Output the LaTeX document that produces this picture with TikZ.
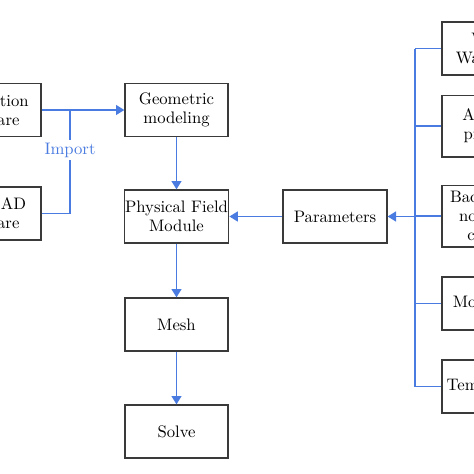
\documentclass[tikz,border=0pt]{standalone}
\usepackage{tikz}
\usetikzlibrary{arrows.meta,positioning,calc}
\definecolor{FlowBlue}{HTML}{4A7BE0}
\definecolor{BoxGray}{HTML}{3A3A3A}

\begin{document}
\begin{tikzpicture}[
  x=0.6pt,y=-0.6pt,
  link/.style={
    line width=0.75pt,
    draw=FlowBlue
  },
  flow/.style={
    link,
    -{Triangle[length=5pt,width=6pt]}
  },
  stagebox/.style={
    draw=BoxGray,
    line width=0.8pt,
    fill=white,
    align=center,
    minimum width=61.8pt,
    minimum height=31.8pt,
    inner xsep=0.5pt,
    inner ysep=2pt,
    font=\fontsize{10}{11.5}\selectfont,
    text=black
  },
  importlabel/.style={
    fill=white,
    inner sep=1.5pt,
    font=\fontsize{10}{11.5}\selectfont,
    text=FlowBlue
  }
]
\useasboundingbox (0,0) rectangle (474,474);
\clip (0,0) rectangle (474,474);

% -------------------------------------------------
% Import sources
% -------------------------------------------------
\node[stagebox] (simsw) at (-10.5,110) {Simulation\\software};
\node[stagebox] (cadsw) at (-10.5,213.5) {AutoCAD\\software};

% -------------------------------------------------
% Main column
% -------------------------------------------------
\node[stagebox] (geo)   at (176.5,110)   {Geometric\\modeling};
\node[stagebox] (phys)  at (176.5,216.5) {Physical Field\\Module};
\node[stagebox] (mesh)  at (176.5,324.5) {Mesh};
\node[stagebox] (solve) at (176.5,431.5) {Solve};

\draw[flow] (simsw.east) -- (geo.west);
\coordinate (junc) at (70,110);
\draw[link] (cadsw.east) -| (junc);
\node[importlabel] (imp) at (70,150) {Import};

\draw[flow] (geo.south)  -- (phys.north);
\draw[flow] (phys.south) -- (mesh.north);
\draw[flow] (mesh.south) -- (solve.north);

% -------------------------------------------------
% Parameters and inputs
% -------------------------------------------------
\node[stagebox, minimum width=62.4pt] (param) at (335,216.5) {Parameters};

\node[stagebox] (wave)  at (493.5,48.5)  {Water\\Wave load};
\node[stagebox, minimum height=37pt] (air) at (493.5,126) {Ambient\\pressure};
\node[stagebox, minimum height=37pt] (bg)  at (493.5,216) {Background\\noise and\\current};
\node[stagebox] (moist) at (493.5,303.5) {Monitoring};
\node[stagebox] (temp)  at (493.5,386.5) {Temperature};

\coordinate (bus) at (415,0);
\foreach \n in {wave,air,bg,moist,temp}
  \draw[link] (\n.west -| bus) -- (\n.west);
\draw[link] (wave.west -| bus) -- (temp.west -| bus);

\draw[flow] (param.east -| bus) -- (param.east);
\draw[flow] (param.west) -- (phys.east);

\end{tikzpicture}
\end{document}
